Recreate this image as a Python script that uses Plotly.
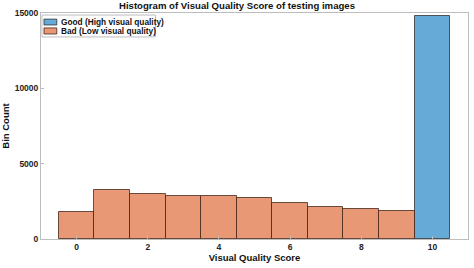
import plotly.graph_objects as go

bad_scores = [0, 1, 2, 3, 4, 5, 6, 7, 8, 9]
bad_counts = [1780, 3270, 2980, 2850, 2850, 2710, 2400, 2110, 1980, 1870]
good_scores = [10]
good_counts = [14800]
x_ticks = [0, 2, 4, 6, 8, 10]
y_ticks = [0, 5000, 10000, 15000]
y_tick_labels = ["0", "5000", "10000", "15000"]
legend_labels = ["Good (High visual quality)", "Bad (Low visual quality)"]
colors = ["#66AAD7", "#E89875"]
edges = ["rgba(40,40,40,0.75)", "rgba(60,30,20,0.75)"]

FONT = "Liberation Sans, Arial, sans-serif"

fig = go.Figure()
fig.add_trace(go.Bar(
    x=good_scores, y=good_counts, width=1, name=legend_labels[0],
    marker=dict(color=colors[0], line=dict(color=edges[0], width=1)),
))
fig.add_trace(go.Bar(
    x=bad_scores, y=bad_counts, width=1, name=legend_labels[1],
    marker=dict(color=colors[1], line=dict(color=edges[1], width=1)),
))

axis_common = dict(
    showline=True, linecolor="#bdbdbd", linewidth=1, mirror=True,
    ticks="inside", ticklen=3, tickcolor="#bdbdbd",
    showgrid=False, zeroline=False,
    tickfont=dict(family=FONT, size=8.5, color="#222", weight="bold"),
)

# compact legend box (drawn in plot-area fractions)
shapes = [dict(type="rect", xref="paper", yref="paper", x0=0.0023, x1=0.268,
               y0=0.894, y1=0.991, fillcolor="white",
               line=dict(color="#bdbdbd", width=1), layer="above")]
annotations = []
sw_y = [(0.947, 0.973), (0.907, 0.934)]
txt_y = [0.960, 0.920]
for i, lab in enumerate(legend_labels):
    shapes.append(dict(type="rect", xref="paper", yref="paper", x0=0.007, x1=0.037,
                       y0=sw_y[i][0], y1=sw_y[i][1], fillcolor=colors[i],
                       line=dict(color=edges[i], width=1), layer="above"))
    annotations.append(dict(text=lab, xref="paper", yref="paper", x=0.042, y=txt_y[i],
                            xanchor="left", yanchor="middle", showarrow=False,
                            font=dict(family=FONT, size=8.3, color="#111", weight="bold")))

fig.update_layout(
    width=474, height=268,
    margin=dict(l=40, r=5, t=13, b=29),
    paper_bgcolor="white", plot_bgcolor="white",
    barmode="overlay", bargap=0,
    title=dict(text="Histogram of Visual Quality Score of testing images",
               x=0.5, xanchor="center", y=0.99, yanchor="top",
               font=dict(family=FONT, size=9.6, color="#111", weight="bold")),
    xaxis=dict(range=[-1, 11], tickvals=x_ticks,
               title=dict(text="Visual Quality Score", standoff=3,
                          font=dict(family=FONT, size=9.5, color="#111", weight="bold")),
               **axis_common),
    yaxis=dict(range=[0, 15000], tickvals=y_ticks, ticktext=y_tick_labels,
               title=dict(text="Bin Count", standoff=3,
                          font=dict(family=FONT, size=9.5, color="#111", weight="bold")),
               **axis_common),
    shapes=shapes,
    annotations=annotations,
    showlegend=False,
)

fig.write_html("out.html")
